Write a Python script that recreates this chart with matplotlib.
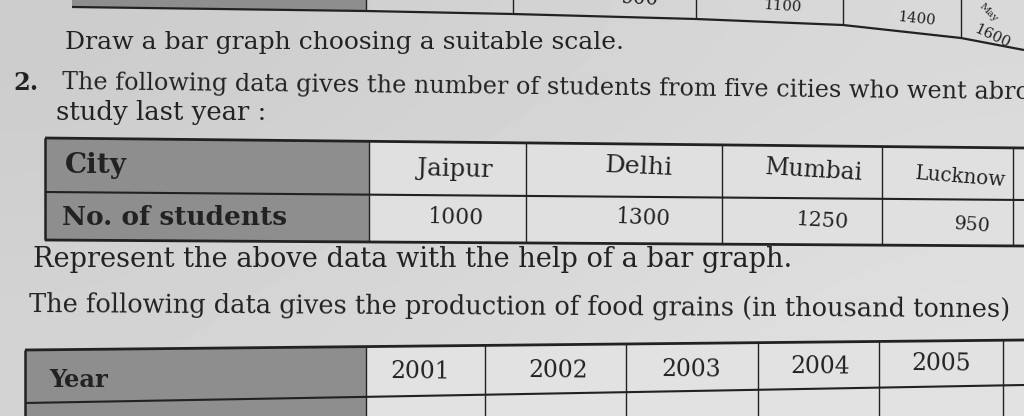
import numpy as np
import matplotlib
matplotlib.use('Agg')
import matplotlib.pyplot as plt
from matplotlib.patches import Polygon

# Table data read from the page
top_values = ['900', '1100', '1400', '1600']
cities = ['Jaipur', 'Delhi', 'Mumbai', 'Lucknow']
students = [1000, 1300, 1250, 950]
years = ['2001', '2002', '2003', '2004', '2005']

INK = '#222222'
HEAD = '#8e8e8e'
FONT = 'DejaVu Serif'

fig = plt.figure(figsize=(10.24, 4.16), dpi=100)
ax = fig.add_axes([0, 0, 1, 1])
ax.set_xlim(0, 1024)
ax.set_ylim(416, 0)
ax.axis('off')
renderer = fig.canvas.get_renderer()

# Paper background with soft shading
yy, xx = np.mgrid[0:416:4j, 0:1024:4j]
shade = 0.80 + 0.05 * (xx / 1024) + 0.03 * (yy / 416)
ax.imshow(shade, cmap='gray', vmin=0, vmax=1, extent=(0, 1024, 416, 0),
          interpolation='bicubic', aspect='auto', zorder=0)


def quad(pts, color):
    ax.add_patch(Polygon(pts, closed=True, facecolor=color, edgecolor='none', zorder=1))


def line(xs, ys, lw=1.0):
    ax.plot(xs, ys, color=INK, lw=lw, zorder=3, solid_capstyle='butt')


def txt(x, y, s, width, weight='normal', ha='left', rot=0.0, fit_on=None):
    # size the text so that it spans the width it has on the page
    t = ax.text(x, y, fit_on or s, fontsize=20, family=FONT, color=INK, weight=weight,
                ha=ha, va='baseline', zorder=4)
    w = t.get_window_extent(renderer).width
    t.set_fontsize(20 * width / w)
    t.set_text(s)
    t.set_rotation(rot)
    t.set_rotation_mode('anchor')
    return t


# --- partial table at the top edge ---
edge_x = [72, 366, 513, 696, 843, 961, 1024]
edge_y = [7, 11, 14, 19, 25, 38, 50]
quad([(72, -5), (366, -5), (366, 11), (72, 7)], HEAD)
line(edge_x, edge_y, lw=1.6)
for x, y in zip(edge_x[1:-1], edge_y[1:-1]):
    line([x, x], [-5, y])
top_pos = [(640, 4), (782, 10), (916, 23), (990, 40)]
top_rot = [-3, -4, -6, -25]
for (x, y), v, r in zip(top_pos, top_values, top_rot):
    txt(x, y, v, 38, ha='center', rot=r)
txt(987, 14, 'May', 22, ha='center', rot=-45)

# --- question text ---
txt(65, 49, 'Draw a bar graph choosing a suitable scale.', 556)
txt(13, 90, '2.', 25, weight='bold')
txt(62, 89, 'The following data gives the number of students from five cities who went abroad to',
    962, rot=-0.6,
    fit_on='The following data gives the number of students from five cities who went abro')
txt(56, 120, 'study last year :', 210)

# --- students table ---
cols1 = [45, 369, 526, 722, 882, 1013, 1024]
top1 = (138, 148)
mid1 = (192, 200)
bot1 = (240, 246)


def yat(x, yl, yr):
    return yl + (yr - yl) * (x - 45) / (1024 - 45)


quad([(45, top1[0]), (369, yat(369, *top1)), (369, yat(369, *bot1)), (45, bot1[0])], HEAD)
quad([(369, yat(369, *top1)), (1024, top1[1]), (1024, bot1[1]), (369, yat(369, *bot1))], '#e0e0e0')
line([45, 1024], list(top1), lw=2.0)
line([45, 1024], list(mid1), lw=1.5)
line([45, 1024], list(bot1), lw=2.0)
for x in cols1[:-1]:
    line([x, x], [yat(x, *top1), yat(x, *bot1)], lw=1.8 if x == 45 else 1.0)

txt(65, 173, 'City', 62, weight='bold')
txt(62, 225, 'No. of students', 226, weight='bold')
city_x = [455, 639, 814, 960]
city_w = [75, 68, 98, 91]
city_y = [176, 173, 177, 183]
num_w = [56, 55, 53, 36]
num_y = [224, 224, 227, 230]
for i in range(len(cities)):
    txt(city_x[i], city_y[i], cities[i], city_w[i], ha='center', rot=-1.5 - i)
    txt(city_x[i] + 4 * i, num_y[i], str(students[i]), num_w[i], ha='center', rot=-1.5 - i)

# --- lines between tables ---
txt(33, 267, 'Represent the above data with the help of a bar graph.', 758)
txt(29, 312, 'The following data gives the production of food grains (in thousand tonnes)', 981,
    rot=-0.3)

# --- years table ---
cols2 = [25, 366, 485, 626, 758, 879, 1003, 1024]
top2 = (350, 340)
mid2 = (403, 385)


def yat2(x, yl, yr):
    return yl + (yr - yl) * (x - 25) / (1024 - 25)


quad([(25, top2[0]), (366, yat2(366, *top2)), (366, 420), (25, 420)], HEAD)
quad([(366, yat2(366, *top2)), (1024, top2[1]), (1024, 420), (366, 420)], '#e2e2e2')
line([25, 1024], list(top2), lw=2.0)
line([25, 1024], list(mid2), lw=1.5)
for x in cols2[:-1]:
    line([x, x], [yat2(x, *top2), 420], lw=1.8 if x == 25 else 1.0)
txt(49, 387, 'Year', 59, weight='bold')
year_x = [420, 558, 691, 820, 941]
year_y = [378, 377, 376, 373, 370]
for i, y in enumerate(years):
    txt(year_x[i], year_y[i], y, 60, ha='center', rot=-0.5)

fig.savefig('out.png', dpi=100)
